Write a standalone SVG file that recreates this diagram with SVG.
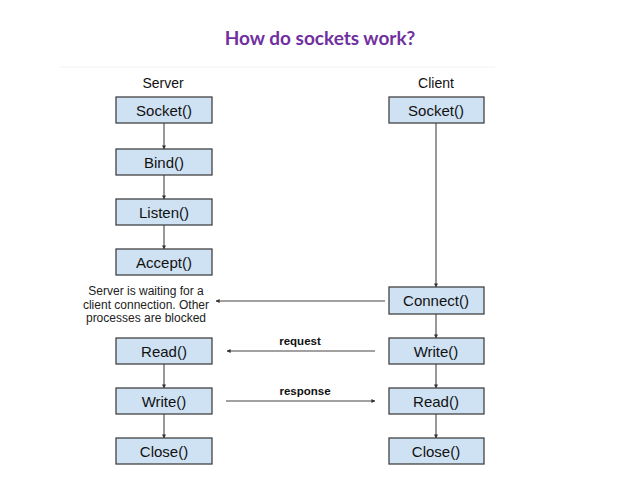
<svg xmlns="http://www.w3.org/2000/svg" width="638" height="478" viewBox="0 0 638 478">
<style>
.box{fill:#cfe2f3;stroke:#434343;stroke-width:1.3}
.lbl{font-family:"Liberation Sans",Arial,sans-serif;font-size:15px;fill:#111;text-anchor:middle}
.hd{font-family:"Liberation Sans",Arial,sans-serif;font-size:14px;fill:#111;text-anchor:middle}
.note{font-family:"Liberation Sans",Arial,sans-serif;font-size:12px;fill:#222;text-anchor:middle}
.al{font-family:"Liberation Sans",Arial,sans-serif;font-size:11.5px;font-weight:bold;fill:#111;text-anchor:middle}
.ln{stroke:#444;stroke-width:1.1;fill:none;marker-end:url(#ah)}
</style>
<defs>
<marker id="ah" viewBox="0 0 10 10" refX="9" refY="5" markerWidth="4" markerHeight="4" orient="auto" markerUnits="userSpaceOnUse">
<path d="M0,0 L10,5 L0,10 z" fill="#333"/>
</marker>
</defs>
<rect width="638" height="478" fill="#fff"/>
<line x1="60" y1="67" x2="495" y2="67" stroke="#f2f2f2" stroke-width="1"/>
<text x="320" y="45" font-family="Lato,'Open Sans',sans-serif" font-size="19" font-weight="bold" fill="#7030a0" text-anchor="middle">How do sockets work?</text>
<text class="hd" x="163" y="88">Server</text>
<text class="hd" x="436" y="88">Client</text>
<g id="connectors">
<line class="ln" x1="164" y1="123" x2="164" y2="149"/>
<line class="ln" x1="164" y1="175" x2="164" y2="199"/>
<line class="ln" x1="164" y1="225" x2="164" y2="249"/>
<line class="ln" x1="164" y1="364" x2="164" y2="388"/>
<line class="ln" x1="164" y1="414" x2="164" y2="438"/>
<line class="ln" x1="436" y1="123" x2="436" y2="287"/>
<line class="ln" x1="436" y1="314" x2="436" y2="338"/>
<line class="ln" x1="436" y1="364" x2="436" y2="388"/>
<line class="ln" x1="436" y1="414" x2="436" y2="438"/>
<line class="ln" x1="385" y1="301" x2="216" y2="301"/>
<line class="ln" x1="375" y1="351" x2="227" y2="351"/>
<line class="ln" x1="226" y1="401" x2="375" y2="401"/>
<text class="al" x="300" y="345">request</text>
<text class="al" x="305" y="395">response</text>
</g>
<g id="s-socket"><rect class="box" x="116" y="97" width="96" height="26"/><text class="lbl" x="164" y="115.5">Socket()</text></g>
<g id="s-bind"><rect class="box" x="116" y="149" width="96" height="26"/><text class="lbl" x="164" y="167.5">Bind()</text></g>
<g id="s-listen"><rect class="box" x="116" y="199" width="96" height="26"/><text class="lbl" x="164" y="217.5">Listen()</text></g>
<g id="s-accept"><rect class="box" x="116" y="249" width="96" height="26"/><text class="lbl" x="164" y="267.5">Accept()</text></g>
<g id="s-wait">
<text class="note" x="146" y="295">Server is waiting for a</text>
<text class="note" x="146" y="308.5">client connection. Other</text>
<text class="note" x="146" y="322">processes are blocked</text>
</g>
<g id="s-read"><rect class="box" x="116" y="338" width="96" height="26"/><text class="lbl" x="164" y="356.5">Read()</text></g>
<g id="s-write"><rect class="box" x="116" y="388" width="96" height="26"/><text class="lbl" x="164" y="406.5">Write()</text></g>
<g id="s-close"><rect class="box" x="116" y="438" width="96" height="26"/><text class="lbl" x="164" y="456.5">Close()</text></g>
<g id="c-socket"><rect class="box" x="389" y="97" width="95" height="26"/><text class="lbl" x="436" y="115.5">Socket()</text></g>
<g id="c-connect"><rect class="box" x="389" y="287" width="95" height="27"/><text class="lbl" x="436" y="306">Connect()</text></g>
<g id="c-write"><rect class="box" x="389" y="338" width="95" height="26"/><text class="lbl" x="436" y="356.5">Write()</text></g>
<g id="c-read"><rect class="box" x="389" y="388" width="95" height="26"/><text class="lbl" x="436" y="406.5">Read()</text></g>
<g id="c-close"><rect class="box" x="389" y="438" width="95" height="26"/><text class="lbl" x="436" y="456.5">Close()</text></g>
</svg>
